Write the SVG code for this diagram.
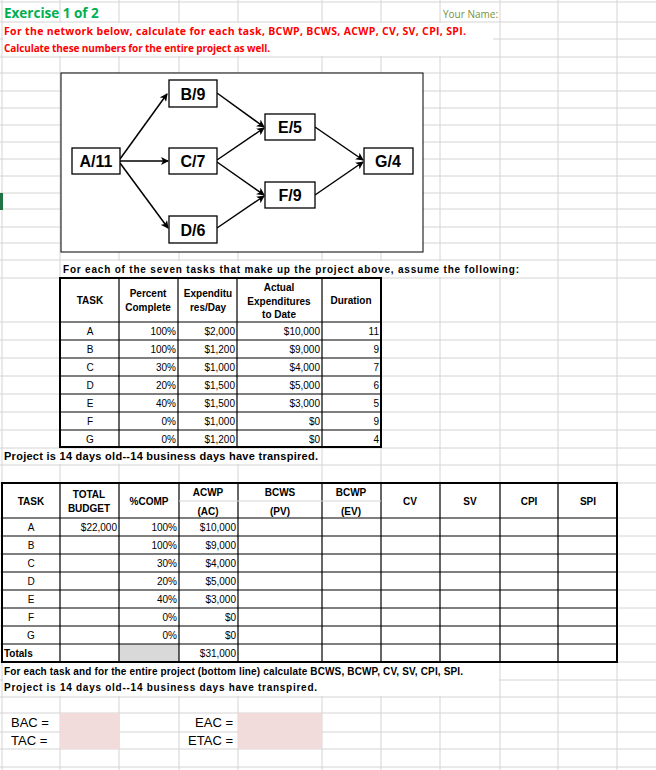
<svg xmlns="http://www.w3.org/2000/svg" width="656" height="770" viewBox="0 0 656 770">
<defs>
<marker id="ah" markerWidth="8" markerHeight="8" refX="7" refY="4" orient="auto" markerUnits="userSpaceOnUse"><path d="M0,0 L8,4 L0,8 L2,4 z" fill="#000"/></marker>
</defs>
<style>
.g{stroke:#d4d4d4;stroke-width:1}
.t{font-family:"Liberation Sans",Arial,sans-serif;font-size:10px;fill:#000}
.b{font-weight:bold}
.n{font-family:"Liberation Sans",Arial,sans-serif;font-size:16px;font-weight:bold;text-anchor:middle}
.nb{fill:#fff;stroke:#000;stroke-width:1.3}
.c{fill:none;stroke:#000;stroke-width:1.5;marker-end:url(#ah)}
.tk{fill:none;stroke:#000;stroke-width:2}
.th{stroke:#000;stroke-width:1.2}
.m{text-anchor:middle}
.r{text-anchor:end}
</style>
<rect width="656" height="770" fill="#fff"/>
<g id="grid">
<path class="g" d="M0,2H656M0,22H656M0,39H656M0,57H656M0,73H656M0,91H656M0,108H656M0,125H656M0,142H656M0,159H656M0,176H656M0,193H656M0,209H656M0,227H656M0,243H656M0,260H656M0,278H656M0,322H656M0,340H656M0,358H656M0,376H656M0,394H656M0,412H656M0,430H656M0,448H656M0,465H656M0,483H656M0,518H656M0,536H656M0,554H656M0,572H656M0,590H656M0,608H656M0,626H656M0,644H656M0,662H656M0,680H656M0,697H656M0,713H656M0,732H656M0,749H656M0,767H656"/>
<path class="g" d="M2,0V770M60,0V770M119,0V770M179,0V770M238,0V770M322,0V770M381,0V770M440,0V770M500,0V770M558,0V770M617,0V770"/>
<rect x="0" y="193" width="3" height="17" fill="#217346"/>
</g>
<g id="header">
<rect x="3" y="23" width="490" height="33" fill="#fff"/>
<rect x="61" y="261" width="496" height="16" fill="#fff"/>
<rect x="3" y="449" width="318" height="15" fill="#fff"/>
<rect x="3" y="663" width="496" height="33" fill="#fff"/>
<text x="4" y="18" style="font-family:'Open Sans','Liberation Sans',sans-serif;font-size:13.5px;font-weight:bold;fill:#00b050">Exercise 1 of 2</text>
<text x="443" y="18" style="font-family:'Open Sans','Liberation Sans',sans-serif;font-size:10px;fill:#76923c">Your Name:</text>
<text x="4" y="35" textLength="462" style="font-family:'Open Sans','Liberation Sans',sans-serif;font-size:10.5px;font-weight:bold;fill:#ff0000">For the network below, calculate for each task, BCWP, BCWS, ACWP, CV, SV, CPI, SPI.</text>
<text x="4" y="52" textLength="266" style="font-family:'Open Sans','Liberation Sans',sans-serif;font-size:10px;font-weight:bold;fill:#ff0000">Calculate these numbers for the entire project as well.</text>
</g>
<rect x="61" y="73" width="362" height="179" fill="#fff" stroke="#000" stroke-width="1"/>
<g id="connectors">
<line class="c" x1="120" y1="159" x2="167" y2="94"/>
<line class="c" x1="120" y1="161" x2="168" y2="161"/>
<line class="c" x1="120" y1="163" x2="168" y2="228"/>
<line class="c" x1="217" y1="93" x2="264" y2="127"/>
<line class="c" x1="217" y1="160" x2="264" y2="128"/>
<line class="c" x1="217" y1="162" x2="264" y2="195"/>
<line class="c" x1="217" y1="228" x2="264" y2="196"/>
<line class="c" x1="315" y1="127" x2="363" y2="160"/>
<line class="c" x1="315" y1="195" x2="363" y2="162"/>
</g>
<g id="nA"><rect class="nb" x="72" y="148" width="48" height="26"/><text class="n" x="96" y="167">A/11</text></g>
<g id="nB"><rect class="nb" x="169" y="80" width="48" height="27"/><text class="n" x="193" y="100">B/9</text></g>
<g id="nC"><rect class="nb" x="169" y="148" width="48" height="26"/><text class="n" x="193" y="167">C/7</text></g>
<g id="nD"><rect class="nb" x="169" y="216" width="48" height="27"/><text class="n" x="193" y="236">D/6</text></g>
<g id="nE"><rect class="nb" x="265" y="114" width="50" height="26"/><text class="n" x="290" y="133">E/5</text></g>
<g id="nF"><rect class="nb" x="265" y="182" width="50" height="26"/><text class="n" x="290" y="201">F/9</text></g>
<g id="nG"><rect class="nb" x="364" y="148" width="49" height="26"/><text class="n" x="388" y="167">G/4</text></g>

<g id="table1">
<text class="t b" x="63" y="273" textLength="456">For each of the seven tasks that make up the project above, assume the following:</text>
<rect x="60" y="278" width="321" height="169" fill="#fff"/>
<path class="th" d="M60,322H381M60,340H381M60,358H381M60,376H381M60,394H381M60,412H381M60,430H381"/>
<path class="th" d="M119,278V447M178,278V447M237,278V447M322,278V447"/>
<rect class="tk" x="60" y="278" width="321" height="169"/>
<g class="t b m">
<text x="90" y="304">TASK</text>
<text x="148" y="297">Percent</text><text x="148" y="311">Complete</text>
<text x="208" y="297">Expenditu</text><text x="208" y="311">res/Day</text>
<text x="279" y="291">Actual</text><text x="279" y="305">Expenditures</text><text x="279" y="318">to Date</text>
<text x="351" y="304">Duration</text>
</g>
<g class="t m"><text x="90" y="335">A</text><text x="90" y="353">B</text><text x="90" y="371">C</text><text x="90" y="389">D</text><text x="90" y="407">E</text><text x="90" y="425">F</text><text x="90" y="443">G</text></g>
<g class="t r"><text x="176" y="335">100%</text><text x="176" y="353">100%</text><text x="176" y="371">30%</text><text x="176" y="389">20%</text><text x="176" y="407">40%</text><text x="176" y="425">0%</text><text x="176" y="443">0%</text></g>
<g class="t r"><text x="235" y="335">$2,000</text><text x="235" y="353">$1,200</text><text x="235" y="371">$1,000</text><text x="235" y="389">$1,500</text><text x="235" y="407">$1,500</text><text x="235" y="425">$1,000</text><text x="235" y="443">$1,200</text></g>
<g class="t r"><text x="320" y="335">$10,000</text><text x="320" y="353">$9,000</text><text x="320" y="371">$4,000</text><text x="320" y="389">$5,000</text><text x="320" y="407">$3,000</text><text x="320" y="425">$0</text><text x="320" y="443">$0</text></g>
<g class="t r"><text x="379" y="335">11</text><text x="379" y="353">9</text><text x="379" y="371">7</text><text x="379" y="389">6</text><text x="379" y="407">5</text><text x="379" y="425">9</text><text x="379" y="443">4</text></g>
<text class="t b" x="4" y="460" style="font-size:11px" textLength="314">Project is 14 days old--14 business days have transpired.</text>
</g>

<g id="table2">
<rect x="2" y="483" width="615" height="179" fill="#fff"/>
<rect x="119" y="644" width="60" height="18" fill="#d9d9d9"/>
<path class="th" d="M2,518H617M2,536H617M2,554H617M2,572H617M2,590H617M2,608H617M2,626H617M2,644H617"/>
<path class="th" d="M60,483V662M119,483V662M179,483V662M238,483V662M322,483V662M381,483V662M440,483V662M500,483V662M558,483V662"/>
<path class="g" d="M179,501H238M238,501H322M322,501H381"/>
<rect class="tk" x="2" y="483" width="615" height="179"/>
<g class="t b m" style="font-size:10px">
<text x="31" y="505">TASK</text>
<text x="89" y="498">TOTAL</text><text x="89" y="512">BUDGET</text>
<text x="149" y="505">%COMP</text>
<text x="208" y="496">ACWP</text><text x="208" y="515">(AC)</text>
<text x="280" y="496">BCWS</text><text x="280" y="515">(PV)</text>
<text x="351" y="496">BCWP</text><text x="351" y="515">(EV)</text>
<text x="410" y="505">CV</text><text x="470" y="505">SV</text><text x="529" y="505">CPI</text><text x="588" y="505">SPI</text>
</g>
<g class="t m"><text x="31" y="531">A</text><text x="31" y="549">B</text><text x="31" y="567">C</text><text x="31" y="585">D</text><text x="31" y="603">E</text><text x="31" y="621">F</text><text x="31" y="639">G</text></g>
<text class="t b" x="4" y="657">Totals</text>
<text class="t r" x="117" y="531">$22,000</text>
<g class="t r"><text x="177" y="531">100%</text><text x="177" y="549">100%</text><text x="177" y="567">30%</text><text x="177" y="585">20%</text><text x="177" y="603">40%</text><text x="177" y="621">0%</text><text x="177" y="639">0%</text></g>
<g class="t r"><text x="236" y="531">$10,000</text><text x="236" y="549">$9,000</text><text x="236" y="567">$4,000</text><text x="236" y="585">$5,000</text><text x="236" y="603">$3,000</text><text x="236" y="621">$0</text><text x="236" y="639">$0</text><text x="236" y="657">$31,000</text></g>
<text class="t b" x="4" y="675" textLength="459">For each task and for the entire project (bottom line) calculate BCWS, BCWP, CV, SV, CPI, SPI.</text>
<text class="t b" x="4" y="691" textLength="313">Project is 14 days old--14 business days have transpired.</text>
</g>
<g id="summary">
<rect x="60" y="713" width="60" height="36" fill="#f2dcdb"/>
<rect x="238" y="713" width="84" height="36" fill="#f2dcdb"/>
<g class="t" style="font-size:13px"><text x="11" y="727">BAC =</text><text x="11" y="745">TAC =</text><text class="r" x="233" y="727">EAC =</text><text class="r" x="233" y="745">ETAC =</text></g>
</g>
</svg>
